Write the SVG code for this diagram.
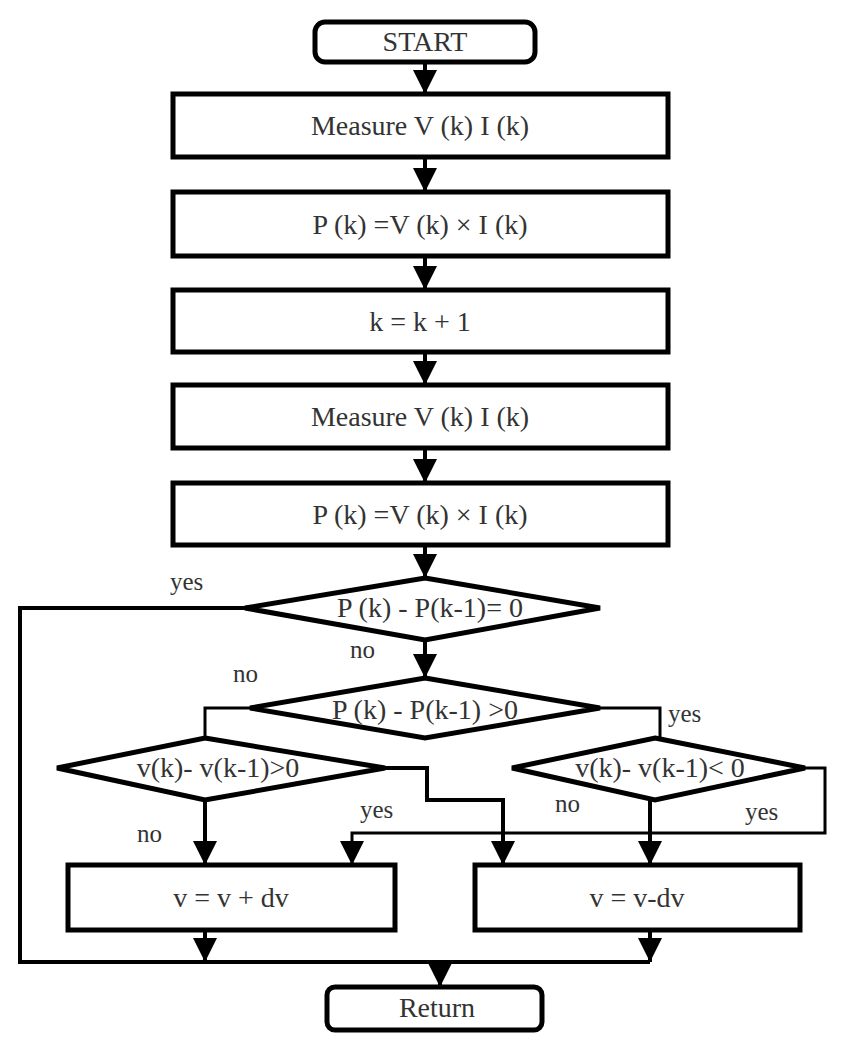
<svg xmlns="http://www.w3.org/2000/svg" width="860" height="1055" viewBox="0 0 860 1055">
<defs>
<style>
.n{fill:#fff;stroke:#000;stroke-width:5}
.t{font-family:"Liberation Serif",serif;font-size:28px;fill:#333;text-anchor:middle}
.l{font-family:"Liberation Serif",serif;font-size:25px;fill:#333}
.c{fill:none;stroke:#000;stroke-width:4}
</style>
<marker id="big" viewBox="0 0 10 10" refX="10" refY="5" markerWidth="24" markerHeight="24" markerUnits="userSpaceOnUse" orient="auto"><path d="M0,0 L10,5 L0,10 z" fill="#000"/></marker>
</defs>
<rect width="860" height="1055" fill="#fff"/>
<g id="connectors" class="c">
<path d="M425,62 V94" marker-end="url(#big)"/>
<path d="M425,157 V192" marker-end="url(#big)"/>
<path d="M425,256 V290" marker-end="url(#big)"/>
<path d="M425,352 V385" marker-end="url(#big)"/>
<path d="M425,448 V483" marker-end="url(#big)"/>
<path d="M425,545 V578" marker-end="url(#big)"/>
<path d="M425,640 V678" marker-end="url(#big)"/>
<path d="M245,608 H20 V962 H650"/>
<path d="M250,708 H205 V738" stroke-width="3"/>
<path d="M600,708 H660 V738" stroke-width="3"/>
<path d="M205,800 V865" marker-end="url(#big)"/>
<path d="M385,768 H427 V800 H503 V865" marker-end="url(#big)"/>
<path d="M650,800 V865" marker-end="url(#big)"/>
<path d="M805,768 H825 V833 H352 V865" stroke-width="3" marker-end="url(#big)"/>
<path d="M205,930 V962" marker-end="url(#big)"/>
<path d="M650,930 V962" marker-end="url(#big)"/>
<path d="M440,962 V987" marker-end="url(#big)"/>
</g>
<g id="start"><rect class="n" x="315" y="22" width="220" height="40" rx="10"/><text class="t" x="425" y="51">START</text></g>
<g id="m1"><rect class="n" x="173" y="94" width="495" height="63" stroke="#444"/><text class="t" x="420" y="135">Measure V (k)  I (k)</text></g>
<g id="p1"><rect class="n" x="173" y="192" width="495" height="64"/><text class="t" x="420" y="234">P (k) =V (k) ×  I (k)</text></g>
<g id="k"><rect class="n" x="173" y="290" width="495" height="62"/><text class="t" x="420" y="331">k = k + 1</text></g>
<g id="m2"><rect class="n" x="173" y="385" width="495" height="63" stroke="#444"/><text class="t" x="420" y="426">Measure V (k)  I (k)</text></g>
<g id="p2"><rect class="n" x="173" y="483" width="495" height="62"/><text class="t" x="420" y="524">P (k) =V (k) ×  I (k)</text></g>
<g id="d1"><polygon class="n" stroke-width="3" points="425,578 600,608 425,640 245,608"/><text class="t" x="430" y="617">P (k) - P(k-1)= 0</text></g>
<g id="d2"><polygon class="n" stroke-width="3" points="425,678 600,708 425,738 250,708"/><text class="t" x="425" y="719">P (k) - P(k-1) &gt;0</text></g>
<g id="d3"><polygon class="n" stroke-width="5" points="205,738 385,768 205,800 57,768"/><text class="t" x="218" y="777">v(k)- v(k-1)&gt;0</text></g>
<g id="d4"><polygon class="n" stroke-width="5" points="655,738 805,768 655,800 512,768"/><text class="t" x="660" y="777">v(k)- v(k-1)&lt; 0</text></g>
<g id="inc"><rect class="n" x="68" y="865" width="327" height="65"/><text class="t" x="231" y="907">v = v + dv</text></g>
<g id="dec"><rect class="n" x="475" y="865" width="325" height="65"/><text class="t" x="637" y="907">v = v-dv</text></g>
<g id="ret"><rect class="n" x="327" y="987" width="215" height="43" rx="8"/><text class="t" x="437" y="1017">Return</text></g>
<g id="labels">
<text class="l" x="170" y="590">yes</text>
<text class="l" x="350" y="658">no</text>
<text class="l" x="233" y="682">no</text>
<text class="l" x="668" y="722">yes</text>
<text class="l" x="137" y="842">no</text>
<text class="l" x="360" y="818">yes</text>
<text class="l" x="555" y="812">no</text>
<text class="l" x="745" y="820">yes</text>
</g>
</svg>
